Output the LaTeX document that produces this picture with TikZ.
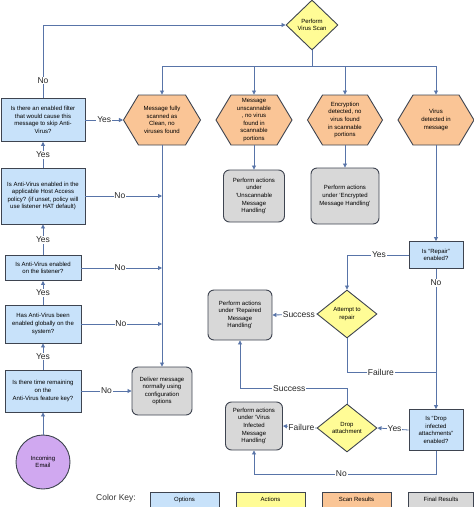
\documentclass[tikz,border=0pt]{standalone}
\usepackage{fontspec}
\setmainfont{Liberation Sans}
\usepackage{tikz}
\usetikzlibrary{arrows.meta,shapes.geometric,shapes.symbols}
\definecolor{optblue}{RGB}{200,226,250}
\definecolor{actyellow}{RGB}{255,252,150}
\definecolor{scanorange}{RGB}{250,197,150}
\definecolor{finalgray}{RGB}{216,216,216}
\definecolor{mailpurple}{RGB}{208,168,240}
\definecolor{edgedark}{RGB}{62,68,80}
\definecolor{flowblue}{RGB}{88,116,168}
\tikzstyle{boxtext}=[font=\fontsize{6}{7.6}\selectfont,align=center,inner sep=1pt,draw=edgedark,line width=0.9pt]
\tikzstyle{option}=[boxtext,rectangle,fill=optblue]
\tikzstyle{action}=[boxtext,diamond,fill=actyellow,aspect=1.2]
\tikzstyle{scanres}=[boxtext,signal,signal to=east and west,signal pointer angle=118,fill=scanorange]
\tikzstyle{final}=[boxtext,rectangle,rounded corners=6pt,fill=finalgray]
\tikzstyle{flow}=[draw=flowblue,line width=0.8pt,-{Triangle[length=4pt,width=4pt]}]
\tikzstyle{plain}=[draw=flowblue,line width=0.8pt]
\tikzstyle{lbl}=[fill=white,inner sep=0.8pt,font=\fontsize{8.5}{10}\selectfont,text=black!85]

\begin{document}
\begin{tikzpicture}[x=1pt,y=-1pt]
\useasboundingbox (0,0) rectangle (474,507);
% scan and its results
\node [action,minimum width=52pt,minimum height=50pt] (scan) at (312,25) {Perform\\Virus Scan};
\coordinate (bus) at (312,66);
\node [scanres,minimum width=77pt,minimum height=50pt] (clean) at (162,120) {Message fully\\scanned as\\Clean, no\\viruses found};
\node [scanres,minimum width=76pt,minimum height=50pt] (unscan) at (254,120) {Message\\unscannable\\, no virus\\found in\\scannable\\portions};
\node [scanres,minimum width=75pt,minimum height=50pt] (crypt) at (345,120) {Encryption\\detected, no\\virus found\\in scannable\\portions};
\node [scanres,minimum width=76pt,minimum height=50pt] (virus) at (436,120) {Virus\\detected in\\message};
\node [final,minimum width=61pt,minimum height=52pt] (unscanact) at (254,196) {Perform actions\\under\\`Unscannable\\Message\\Handling'};
\node [final,minimum width=68pt,minimum height=56pt] (cryptact) at (345,196) {Perform actions\\under `Encrypted\\Message Handling'};
% left column of options
\node [option,minimum width=84pt,minimum height=43pt] (filter) at (43,120) {Is there an enabled filter\\that would cause this\\message to skip Anti-\\Virus?};
\node [option,minimum width=84pt,minimum height=56pt] (hat) at (43,196) {Is Anti-Virus enabled in the\\applicable Host Access\\policy? (if unset, policy will\\use listener HAT default)};
\node [option,minimum width=76pt,minimum height=25pt] (listener) at (43,268) {Is Anti-Virus enabled\\on the listener?};
\node [option,minimum width=76pt,minimum height=38pt] (global) at (43,324) {Has Anti-Virus been\\enabled globally on the\\system?};
\node [option,minimum width=76pt,minimum height=42pt] (key) at (43,391) {Is there time remaining\\on the\\Anti-Virus feature key?};
\node [boxtext,circle,fill=mailpurple,minimum size=54pt] (email) at (43,462) {Incoming\\Email};
\node [final,minimum width=60pt,minimum height=48pt] (deliver) at (162,391) {Deliver message\\normally using\\configuration\\options};
% virus handling
\node [option,minimum width=54pt,minimum height=27pt] (repair) at (436,255) {Is ``Repair''\\enabled?};
\node [action,minimum width=60pt,minimum height=48pt] (attempt) at (347,314) {Attempt to\\repair};
\node [final,minimum width=64pt,minimum height=50pt] (repaired) at (240,315) {Perform actions\\under `Repaired\\Message\\Handling'};
\node [option,minimum width=54pt,minimum height=41pt] (dropq) at (436,430) {Is ``Drop\\infected\\attachments''\\enabled?};
\node [action,minimum width=60pt,minimum height=48pt] (dropa) at (347,428) {Drop\\attachment};
\node [final,minimum width=57pt,minimum height=48pt] (infected) at (254,426) {Perform actions\\under `Virus\\Infected\\Message\\Handling'};
\coordinate (failjoin) at (436,372);
% connectors
\draw [flow] (filter.north) |- node[lbl,pos=0.12] {No} (scan.west);
\draw [plain] (scan.south) -- (bus);
\draw [flow] (bus) -| (clean.north);
\draw [flow] (bus) -| (unscan.north);
\draw [flow] (bus) -| (crypt.north);
\draw [flow] (bus) -| (virus.north);
\draw [flow] (unscan.south) -- (unscanact.north);
\draw [flow] (crypt.south) -- (cryptact.north);
\draw [flow] (filter.east) -- node[lbl] {Yes} (clean.west);
\draw [flow] (hat.north) -- node[lbl] {Yes} (filter.south);
\draw [flow] (listener.north) -- node[lbl] {Yes} (hat.south);
\draw [flow] (global.north) -- node[lbl] {Yes} (listener.south);
\draw [flow] (key.north) -- node[lbl] {Yes} (global.south);
\draw [flow] (email.north) -- (key.south);
\draw [flow] (hat.east) -- node[lbl,pos=0.45] {No} (hat.east -| clean.south);
\draw [flow] (listener.east) -- node[lbl,pos=0.48] {No} (listener.east -| clean.south);
\draw [flow] (global.east) -- node[lbl,pos=0.49] {No} (global.east -| clean.south);
\draw [flow] (key.east) -- node[lbl] {No} (deliver.west);
\draw [flow] (clean.south) -- (deliver.north);
\draw [flow] (virus.south) -- (repair.north);
\draw [flow] (repair.west) -| node[lbl,pos=0.24] {Yes} (attempt.north);
\draw [flow] (attempt.west) -- node[lbl,pos=0.4] {Success} (repaired.east);
\draw [flow] (repair.south) -- node[lbl,pos=0.1] {No} (dropq.north);
\draw [plain] (attempt.south) |- node[lbl,pos=0.69] {Failure} (failjoin);
\draw [flow] (dropq.west) -- node[lbl,pos=0.45] {Yes} (dropa.east);
\draw [flow] (dropa.north) -- ++(0,-15) -| node[lbl,pos=0.27] {Success} (repaired.south);
\draw [flow] (dropa.west) -- node[lbl,pos=0.45] {Failure} (infected.east);
\draw [flow] (dropq.south) -- ++(0,23) -| node[lbl,pos=0.26] {No} (infected.south);
% colour key
\node [font=\fontsize{8.5}{10}\selectfont,text=black!80] (keytitle) at (116,498) {Color Key:};
\node [option,minimum width=69pt,minimum height=15pt] (keyopt) at (184.5,499.5) {Options};
\node [boxtext,rectangle,fill=actyellow,minimum width=69pt,minimum height=15pt] (keyact) at (270.5,499.5) {Actions};
\node [boxtext,rectangle,fill=scanorange,minimum width=69pt,minimum height=15pt] (keyscan) at (356.5,499.5) {Scan Results};
\node [boxtext,rectangle,fill=finalgray,minimum width=65pt,minimum height=15pt] (keyfinal) at (441,499.5) {Final Results};
\end{tikzpicture}
\end{document}
